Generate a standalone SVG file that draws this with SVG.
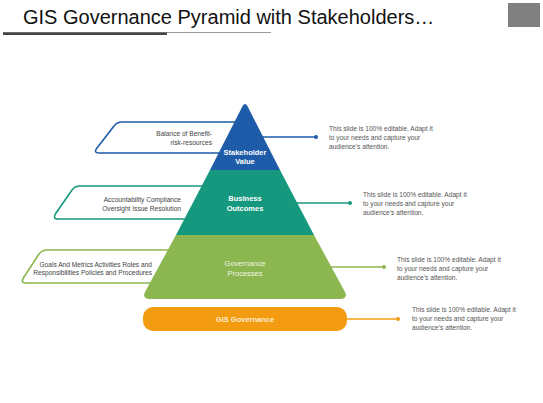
<svg xmlns="http://www.w3.org/2000/svg" width="543" height="403" viewBox="0 0 543 403">
<defs>
<style>
.title{font-family:"Liberation Sans",Arial,sans-serif;font-size:20px;fill:#111}
.lab{font-family:"Liberation Sans",Arial,sans-serif;font-size:6.6px;fill:#444;text-anchor:end}
.desc{font-family:"Liberation Sans",Arial,sans-serif;font-size:6.6px;fill:#555}
.in{font-family:"Liberation Sans",Arial,sans-serif;font-size:7.5px;font-weight:bold;fill:#fff;text-anchor:middle}
.br{fill:none;stroke-width:1.6}
.ln{fill:none;stroke-width:1.4}
</style>
<marker id="mb" viewBox="0 0 6 6" refX="3" refY="3" markerWidth="4" markerHeight="4" markerUnits="userSpaceOnUse"><circle cx="3" cy="3" r="3" fill="#1E5BA8"/></marker>
<marker id="mt" viewBox="0 0 6 6" refX="3" refY="3" markerWidth="4" markerHeight="4" markerUnits="userSpaceOnUse"><circle cx="3" cy="3" r="3" fill="#16987F"/></marker>
<marker id="mg" viewBox="0 0 6 6" refX="3" refY="3" markerWidth="4" markerHeight="4" markerUnits="userSpaceOnUse"><circle cx="3" cy="3" r="3" fill="#8CB64F"/></marker>
<marker id="mo" viewBox="0 0 6 6" refX="3" refY="3" markerWidth="4" markerHeight="4" markerUnits="userSpaceOnUse"><circle cx="3" cy="3" r="3" fill="#F39C12"/></marker>
</defs>
<rect width="543" height="403" fill="#fff"/>
<g id="header">
<text class="title" x="23" y="24">GIS Governance Pyramid with Stakeholders…</text>
<rect x="3" y="32" width="268" height="1" fill="#999"/>
<rect x="3" y="32.5" width="164" height="2.5" fill="#444"/>
<rect x="508" y="3" width="32" height="24" fill="#808080"/>
</g>
<g id="connectors">
<path class="br" stroke="#1E5BA8" d="M240,122 H122 Q117,122 114,126 L97,148 Q93,153 99,153 H235"/>
<path class="br" stroke="#16987F" d="M215,186 H80 Q75,186 72,190 L56,213 Q52,219 58,219 H200"/>
<path class="br" stroke="#8CB64F" d="M185,250 H47 Q42,250 39,254 L24,277 Q20,283 26,283 H165"/>
<path class="ln" stroke="#1E5BA8" marker-end="url(#mb)" d="M250,137 H316"/>
<path class="ln" stroke="#16987F" marker-end="url(#mt)" d="M250,203 H350"/>
<path class="ln" stroke="#8CB64F" marker-end="url(#mg)" d="M250,267 H384"/>
<path class="ln" stroke="#F39C12" marker-end="url(#mo)" d="M300,319 H398"/>
</g>
<g id="stakeholder-value">
<path d="M242.6,106 Q245,102 247.4,106 L280,170 H210 Z" fill="#1E5BA8"/>
<text class="in" x="245" y="155">Stakeholder</text>
<text class="in" x="245" y="164">Value</text>
</g>
<g id="business-outcomes">
<path d="M210,170 H280 L314,235 H176 Z" fill="#16987F"/>
<text class="in" x="245" y="201">Business</text>
<text class="in" x="245" y="211">Outcomes</text>
</g>
<g id="governance-processes">
<path d="M176,235 H314 L345,292 Q348,299 340,299 H150 Q142,299 145,292 Z" fill="#8CB64F"/>
<text class="in" x="245" y="266" style="font-weight:normal;fill:#F0F5E6">Governance</text>
<text class="in" x="245" y="276" style="font-weight:normal;fill:#F0F5E6">Processes</text>
</g>
<g id="gis-governance">
<rect x="143" y="307" width="204" height="24" rx="10" fill="#F39C12"/>
<text class="in" x="245" y="322" style="fill:#FCEBD0">GIS Governance</text>
</g>
<g id="left-labels">
<text class="lab" x="212" y="136">Balance of Benefit-</text>
<text class="lab" x="212" y="145">risk-resources</text>
<text class="lab" x="181" y="202">Accountability Compliance</text>
<text class="lab" x="181" y="211">Oversight Issue Resolution</text>
<text class="lab" x="152" y="267">Goals And Metrics Activities Roles and</text>
<text class="lab" x="152" y="275">Responsibilities Policies and Procedures</text>
</g>
<g id="right-labels">
<text class="desc" x="329" y="131">This slide is 100% editable. Adapt it</text>
<text class="desc" x="329" y="140">to your needs and capture your</text>
<text class="desc" x="329" y="149">audience’s attention.</text>
<text class="desc" x="363" y="197">This slide is 100% editable. Adapt it</text>
<text class="desc" x="363" y="206">to your needs and capture your</text>
<text class="desc" x="363" y="215">audience’s attention.</text>
<text class="desc" x="397" y="262">This slide is 100% editable. Adapt it</text>
<text class="desc" x="397" y="271">to your needs and capture your</text>
<text class="desc" x="397" y="280">audience’s attention.</text>
<text class="desc" x="412" y="312">This slide is 100% editable. Adapt it</text>
<text class="desc" x="412" y="321">to your needs and capture your</text>
<text class="desc" x="412" y="330">audience’s attention.</text>
</g>
</svg>
